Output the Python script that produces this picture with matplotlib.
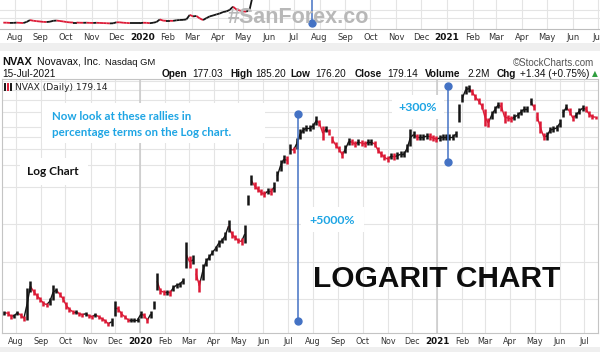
import numpy as np
import pandas as pd
import matplotlib
matplotlib.use("Agg")
import matplotlib.pyplot as plt
import matplotlib.dates as mdates
from matplotlib.patches import Rectangle
from matplotlib.lines import Line2D
from matplotlib.collections import LineCollection
from matplotlib.ticker import NullLocator

# ---------------- data ----------------
symbol = "NVAX"
company = "Novavax, Inc."
exchange = "Nasdaq GM"
last_day = "2021-07-15"
bar_spacing = "4D"

highs = [
    5.04, 5.04, 4.77, 4.77, 5.04, 4.86, 4.60, 7.73, 8.80, 7.58,
    7.04, 6.54, 6.07, 5.85, 6.42, 8.17, 7.73, 7.17, 6.66, 5.96,
    5.43, 5.14, 5.14, 4.95, 4.86, 4.95, 4.77, 4.69, 4.86, 4.69,
    4.52, 4.35, 4.11, 4.43, 6.07, 5.53, 5.04, 4.69, 4.43, 4.43,
    4.43, 4.43, 5.04, 4.86, 4.43, 5.04, 6.07, 10.2, 7.73, 7.44,
    7.44, 7.44, 8.17, 8.48, 8.63, 9.30, 18.1, 13.8, 14.0, 11.2,
    8.96, 11.9, 13.3, 14.3, 15.6, 16.8, 18.8, 19.5, 21.8, 26.8,
    22.2, 20.6, 19.5, 19.2, 24.4, 42.6, 61.7, 54.2, 50.3, 47.6,
    45.9, 48.5, 48.5, 54.2, 66.5, 81.5, 89.4, 87.8, 110, 104,
    123, 145, 150, 156, 156, 162, 184, 171, 153, 153,
    145, 127, 114, 106, 96.3, 108, 123, 120, 116, 120,
    118, 116, 120, 120, 116, 104, 96.3, 91.1, 87.8, 92.8,
    92.8, 94.6, 96.3, 96.3, 110, 145, 140, 132, 132, 132,
    135, 135, 130, 127, 130, 132, 132, 132, 132, 140,
    230, 278, 322, 328, 305, 278, 258, 235, 210, 177,
    202, 222, 239, 239, 202, 188, 184, 191, 198, 210,
    222, 222, 258, 230, 198, 168, 135, 137, 150, 153,
    156, 174, 210, 230, 214, 188, 198, 214, 226, 222,
    202, 191, 185.20,
]
lows = [
    4.69, 4.60, 4.35, 4.43, 4.69, 4.43, 4.19, 4.27, 7.17, 6.78,
    6.30, 5.96, 5.53, 5.43, 5.64, 6.19, 7.04, 6.54, 5.96, 5.23,
    4.95, 4.77, 4.77, 4.60, 4.52, 4.60, 4.43, 4.35, 4.52, 4.35,
    4.19, 4.04, 3.82, 3.82, 4.60, 4.95, 4.52, 4.35, 4.11, 4.11,
    4.11, 4.11, 4.43, 4.43, 4.04, 4.43, 5.23, 7.44, 6.91, 6.78,
    6.78, 6.66, 7.31, 7.73, 7.87, 8.32, 11.2, 11.2, 11.9, 8.96,
    7.17, 8.96, 11.6, 12.8, 14.0, 15.1, 16.5, 17.5, 18.8, 21.8,
    19.5, 18.5, 17.5, 17.1, 17.8, 35.4, 51.3, 47.6, 45.0, 42.6,
    41.0, 43.4, 42.6, 45.0, 55.2, 66.5, 77.1, 75.7, 91.1, 92.8,
    100, 120, 135, 140, 140, 145, 156, 153, 118, 137,
    130, 112, 102, 94.6, 84.6, 92.8, 108, 108, 104, 108,
    106, 104, 108, 108, 104, 92.8, 86.2, 81.5, 78.5, 83.1,
    81.5, 83.1, 86.2, 86.2, 94.6, 106, 123, 118, 118, 118,
    120, 118, 116, 114, 116, 118, 118, 118, 118, 125,
    165, 239, 278, 288, 272, 248, 230, 210, 153, 150,
    174, 195, 214, 202, 162, 168, 165, 171, 177, 188,
    198, 198, 226, 206, 168, 135, 118, 118, 135, 137,
    140, 150, 181, 206, 188, 168, 177, 191, 202, 198,
    181, 174, 176.20,
]
last_open = 177.03
last_close = 179.14
last_volume = "2.2M"
last_change = 1.34
last_change_pct = 0.75

month_starts = pd.date_range("2019-08-01", "2021-07-01", freq="MS")
log_grid_prices = [6.25, 12.5, 25, 50, 75, 100, 125, 150, 200, 250, 300, 350]
linear_grid_prices = [10, 20]

rally_big = {"date": "2020-07-13", "low": 4.19, "high": 191.0, "label": "+5000%"}
rally_small = {"date": "2021-01-14", "low": 78.5, "high": 324.0, "label": "+300%"}
linear_marker_date = "2020-07-23"

# ---------------- styling ----------------
W, H = 600, 352
UP, DOWN = "#151515", "#dc1a36"
BLUE_LINE = "#4472c4"
BLUE_TEXT = "#1ea5e4"
GRID = "#e4e4e4"
YEAR_GRID = "#c9c9c9"
LABEL = "#333333"
PT = 0.72  # points per pixel at 100 dpi


def fx(px):
    return px / W


def fy(py):
    return 1 - py / H


dates = pd.date_range(end=last_day, periods=len(highs), freq=bar_spacing)
h = np.array(highs)
l = np.array(lows)
mids = np.sqrt(h * l)
rising = np.r_[True, mids[1:] >= mids[:-1]]
colors = np.where(rising, UP, DOWN)
xnum = mdates.date2num(dates)

# consecutive bars whose ranges overlap are joined; price gaps stay open
overlap = (l[1:] <= h[:-1]) & (h[1:] >= l[:-1])
segs = np.stack([np.c_[xnum[:-1], mids[:-1]], np.c_[xnum[1:], mids[1:]]], axis=1)

fig = plt.figure(figsize=(6.0, 3.52), dpi=100, facecolor="white")

# light separator bands
fig.patches.append(Rectangle((0, fy(51)), 1, 8 / H, transform=fig.transFigure,
                             facecolor="#efefef", edgecolor="none", zorder=0))
fig.patches.append(Rectangle((0, 0), 1, 5 / H, transform=fig.transFigure,
                             facecolor="#efefef", edgecolor="none", zorder=0))

# ---------------- upper strip: linear-scale panel ----------------
top = fig.add_axes([0, fy(29), 1, 29 / H])
top.set_xlim(pd.Timestamp("2019-07-14"), pd.Timestamp("2021-07-04"))
top.set_ylim(-2.8, 32.2)
top.set_xticks(month_starts)
top.set_yticks(linear_grid_prices)
top.grid(True, color=GRID, lw=0.8)
top.set_axisbelow(True)
top.tick_params(left=False, bottom=False, labelleft=False, labelbottom=False)
for s in ("left", "right", "top"):
    top.spines[s].set_visible(False)
top.spines["bottom"].set_color("#bdbdbd")
top.spines["bottom"].set_linewidth(0.8)

top.add_collection(LineCollection(segs, colors=colors[1:], lw=1.3, zorder=3))
md = pd.Timestamp(linear_marker_date)
top.vlines(md, rally_big["low"], rally_big["high"], color=BLUE_LINE, lw=1.1, zorder=4)
top.plot([md], [rally_big["low"]], "o", color=BLUE_LINE, ms=5, zorder=5)

ybase_top = (29 - 39.5) / 29
for d in month_starts:
    is_year = d.month == 1
    top.text(d, ybase_top, str(d.year) if is_year else d.strftime("%b"),
             transform=top.get_xaxis_transform(), ha="center", va="baseline",
             fontsize=(6.5 if is_year else 6.0), fontweight=("bold" if is_year else "normal"),
             color=("#111111" if is_year else LABEL), family="DejaVu Sans", clip_on=False)

fig.text(fx(228), fy(23), "#SanForex.co", fontsize=15.5, fontweight="bold",
         color="#b8b8b8", family="Liberation Sans", ha="left", va="baseline", zorder=10)

# ---------------- header ----------------
hdr = dict(family="Liberation Sans", va="baseline", color="#111111")
fig.text(fx(2), fy(65), symbol, fontsize=11 * PT, fontweight="bold", **hdr)
fig.text(fx(37), fy(65), company, fontsize=10.5 * PT, **hdr)
fig.text(fx(105), fy(65), exchange, fontsize=9.4 * PT, **hdr)
fig.text(fx(2), fy(77), pd.Timestamp(last_day).strftime("%d-%b-%Y"), fontsize=10 * PT, **hdr)
fig.text(fx(513), fy(66), "\u00a9StockCharts.com", fontsize=9.8 * PT,
         family="Liberation Sans", va="baseline", color="#555555")

stats = [
    ("Open", 162, True), (f"{last_open:.2f}", 192, False),
    ("High", 230, True), (f"{highs[-1]:.2f}", 255, False),
    ("Low", 290, True), (f"{lows[-1]:.2f}", 315, False),
    ("Close", 355, True), (f"{last_close:.2f}", 387, False),
    ("Volume", 425, True), (last_volume, 467, False),
    ("Chg", 497, True), (f"+{last_change:.2f} (+{last_change_pct:.2f}%)", 520, False),
]
for txt, px, bold in stats:
    fig.text(fx(px), fy(77), txt, fontsize=10 * PT,
             fontweight=("bold" if bold else "normal"), **hdr)
fig.text(fx(592), fy(76), "\u25b2", fontsize=5.5, color="#2e9e3e",
         family="DejaVu Sans", va="baseline")

# ---------------- main log-scale panel ----------------
ax = fig.add_axes([fx(2), fy(333), 596 / W, 254 / H])
ax.set_yscale("log")
ax.set_ylim(3.34, 366)
ax.set_xlim(pd.Timestamp("2019-07-15"), pd.Timestamp("2021-07-18"))
ax.set_yticks(log_grid_prices)
ax.yaxis.set_minor_locator(NullLocator())
ax.set_xticks(month_starts)
ax.grid(True, color=GRID, lw=0.8)
ax.set_axisbelow(True)
ax.tick_params(left=False, bottom=False, labelleft=False, labelbottom=False)
for d in month_starts[month_starts.month == 1]:
    ax.axvline(d, color=YEAR_GRID, lw=1.1, zorder=0.8)
for s in ax.spines.values():
    s.set_color("#c4c4c4")
    s.set_linewidth(0.8)

ax.add_collection(LineCollection(segs[overlap], colors=colors[1:][overlap], lw=1.0, zorder=2.5))
ax.vlines(dates, lows, highs, colors=colors, lw=1.8, zorder=3)

ybase_main = (333 - 343.5) / 254
for d in month_starts:
    is_year = d.month == 1
    ax.text(d, ybase_main, str(d.year) if is_year else d.strftime("%b"),
            transform=ax.get_xaxis_transform(), ha="center", va="baseline",
            fontsize=(6.3 if is_year else 5.8), fontweight=("bold" if is_year else "normal"),
            color=("#111111" if is_year else LABEL), family="DejaVu Sans", clip_on=False)

# legend line inside the panel
fig.text(fx(15), fy(89.5), f"{symbol} (Daily) {last_close:.2f}", fontsize=6.6,
         family="DejaVu Sans", color="#222222", va="baseline")
for px, c in ((4.5, UP), (7.5, DOWN), (10.5, UP)):
    fig.lines.append(Line2D([fx(px), fx(px)], [fy(90), fy(84)], transform=fig.transFigure,
                            color=c, lw=1.4, zorder=10))

# rally markers
for r in (rally_big, rally_small):
    d = pd.Timestamp(r["date"])
    ax.vlines(d, r["low"], r["high"], color=BLUE_LINE, lw=1.1, zorder=4)
    ax.plot([d, d], [r["low"], r["high"]], "o", color=BLUE_LINE, ms=5, zorder=5)

# ---------------- annotations ----------------
def white_box(x0, y0, x1, y1):
    fig.patches.append(Rectangle((fx(x0), fy(y1)), (x1 - x0) / W, (y1 - y0) / H,
                                 transform=fig.transFigure, facecolor="white",
                                 edgecolor="none", zorder=6))


note = dict(family="Lato", va="baseline", ha="left", zorder=8)
white_box(42, 103, 265, 143)
fig.text(fx(52), fy(120), "Now look at these rallies in", fontsize=8.3,
         fontweight="bold", color=BLUE_TEXT, **note)
fig.text(fx(52), fy(136.5), "percentage terms on the Log chart.", fontsize=8.3,
         fontweight="bold", color=BLUE_TEXT, **note)

white_box(20, 158, 88, 185)
fig.text(fx(27), fy(175), "Log Chart", fontsize=8.6, fontweight="bold",
         color="#111111", **note)

white_box(301, 207, 364, 232)
fig.text(fx(309), fy(224), rally_big["label"], fontsize=8.8, fontweight="bold",
         color=BLUE_TEXT, **note)

white_box(392, 95, 444, 119)
fig.text(fx(398), fy(111), rally_small["label"], fontsize=8.8, fontweight="bold",
         color=BLUE_TEXT, **note)

fig.text(fx(313), fy(287), "LOGARIT CHART", fontsize=21.5, fontweight="bold",
         family="Liberation Sans", color="#0d0d0d", ha="left", va="baseline", zorder=8)

fig.savefig("out.png", dpi=100, facecolor="white")
